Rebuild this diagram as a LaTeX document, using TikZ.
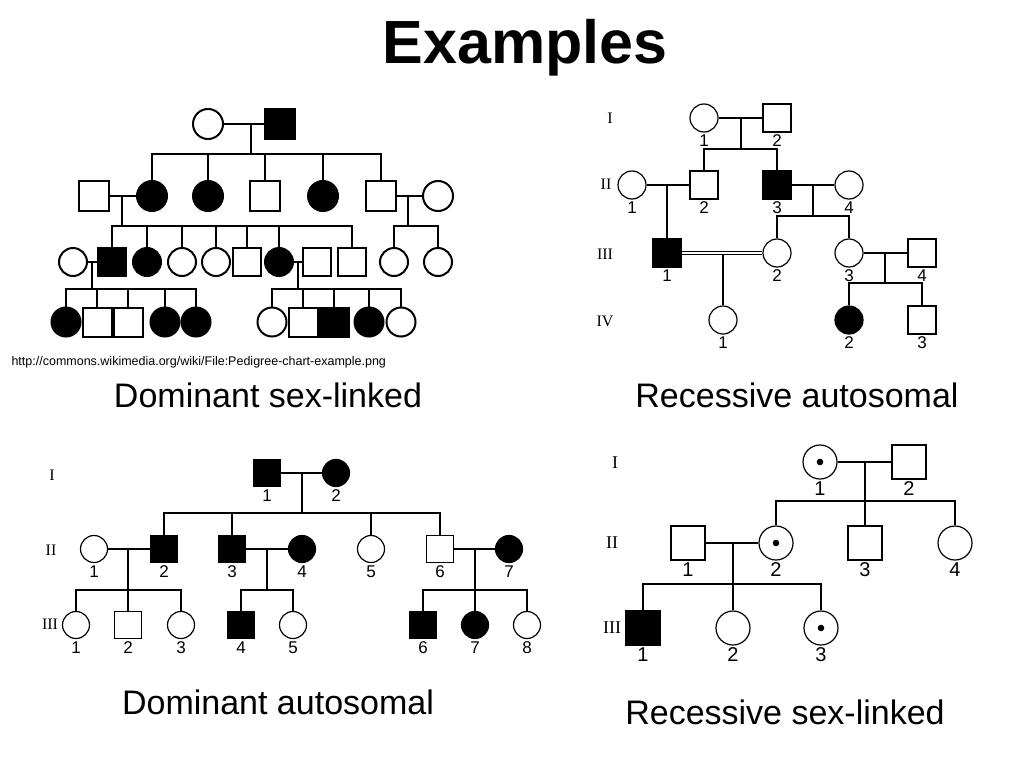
\documentclass[tikz,border=0pt]{standalone}
\usepackage{fontspec}
\setmainfont{Liberation Sans}
\newfontfamily\ser{Liberation Serif}
\begin{document}
\begin{tikzpicture}[x=1pt,y=-1pt,
 sq/.style={draw,rectangle,minimum size=#1,inner sep=0pt},
 ci/.style={draw,circle,minimum size=#1,inner sep=0pt},
 aff/.style={fill=black},
 dot/.style={path picture={\fill (path picture bounding box.center) circle (3.3pt);}},
 num/.style={font=\fontsize{17}{17}\selectfont,inner sep=0pt},
 gen/.style={font=\ser\fontsize{16}{16}\selectfont},
 pa/.style={line width=2pt},
 pb/.style={line width=1.2pt},
 captxt/.style={font=\fontsize{34}{36}\selectfont}]
\useasboundingbox (0,0) rectangle (1024,768);
\node[font=\bfseries\fontsize{61}{61}\selectfont] (title) at (525,48) {Examples};
\node[font=\fontsize{12.5}{12.5}\selectfont,anchor=west] (url) at (8,362) {http://commons.wikimedia.org/wiki/File:Pedigree-chart-example.png};
\node[captxt] (c1) at (268,395) {Dominant sex-linked};
\node[captxt] (c2) at (797,395) {Recessive autosomal};
\node[captxt] (c3) at (278,702) {Dominant autosomal};
\node[captxt] (c4) at (785,712) {Recessive sex-linked};

% ===== Panel 1 =====
\begin{scope}[pa]
\node[ci=30pt,pa] (a1) at (208,124) {};
\node[sq=30pt,aff,pa] (a2) at (280,124) {};
\node[sq=30pt,pa] (b1) at (94,196) {};
\node[ci=30pt,aff,pa] (b2) at (152,196) {};
\node[ci=30pt,aff,pa] (b3) at (208,196) {};
\node[sq=30pt,pa] (b4) at (265,196) {};
\node[ci=30pt,aff,pa] (b5) at (323,196) {};
\node[sq=30pt,pa] (b6) at (381,196) {};
\node[ci=30pt,pa] (b7) at (438,196) {};
\node[ci=28pt,pa] (d1) at (73,262) {};
\node[sq=28pt,aff,pa] (d2) at (112,262) {};
\node[ci=28pt,aff,pa] (d3) at (147,262) {};
\node[ci=28pt,pa] (d4) at (182,262) {};
\node[ci=28pt,pa] (d5) at (216,262) {};
\node[sq=28pt,pa] (d6) at (247,262) {};
\node[ci=28pt,aff,pa] (d7) at (279,262) {};
\node[sq=28pt,pa] (d8) at (317,262) {};
\node[sq=28pt,pa] (d9) at (352,262) {};
\node[ci=28pt,pa] (d10) at (394,262) {};
\node[ci=28pt,pa] (d11) at (438,262) {};
\node[ci=29pt,aff,pa] (e1) at (66,322) {};
\node[sq=29pt,pa] (e2) at (97,322) {};
\node[sq=29pt,pa] (e3) at (128,322) {};
\node[ci=29pt,aff,pa] (e4) at (165,322) {};
\node[ci=29pt,aff,pa] (e5) at (196,322) {};
\node[ci=29pt,pa] (f1) at (272,322) {};
\node[sq=29pt,pa] (f2) at (303,322) {};
\node[sq=29pt,aff,pa] (f3) at (334,322) {};
\node[ci=29pt,aff,pa] (f4) at (369,322) {};
\node[ci=29pt,pa] (f5) at (401,322) {};
\draw (a1) -- (a2);
\coordinate (m1) at (251,124);
\draw (m1) -- (251,154) coordinate (s1);
\foreach \c in {b2,b3,b4,b5,b6} \draw (s1) -| (\c.north);
\draw (b1) -- (b2); \coordinate (m2) at (122,196);
\draw (m2) -- (122,226) coordinate (s2);
\foreach \c in {d2,d3,d4,d5,d6,d7,d9} \draw (s2) -| (\c.north);
\draw (b6) -- (b7); \coordinate (m3) at (408,196);
\draw (m3) -- (408,226) coordinate (s3);
\foreach \c in {d10,d11} \draw (s3) -| (\c.north);
\draw (d1) -- (d2); \coordinate (m4) at (92,262);
\draw (m4) -- (92,289) coordinate (s4);
\foreach \c in {e1,e2,e3,e4,e5} \draw (s4) -| (\c.north);
\draw (d7) -- (d8); \coordinate (m5) at (298,262);
\draw (m5) -- (298,289) coordinate (s5);
\foreach \c in {f1,f2,f3,f4,f5} \draw (s5) -| (\c.north);
\end{scope}

% ===== Panel 2 =====
\begin{scope}[pb]
\node[gen] (g2a) at (610,118) {I};
\node[gen] (g2b) at (606,184) {II};
\node[gen] (g2c) at (605,254) {III};
\node[gen] (g2d) at (605,321) {IV};
\node[ci=28pt,pb] (r1) at (704,118) {};
\node[sq=28pt,pb] (r2) at (777,118) {};
\node[ci=28pt,pb] (r3) at (632,185) {};
\node[sq=28pt,pb] (r4) at (704,185) {};
\node[sq=28pt,aff,pb] (r5) at (777,185) {};
\node[ci=28pt,pb] (r6) at (849,185) {};
\node[sq=28pt,aff,pb] (r7) at (667,253) {};
\node[ci=28pt,pb] (r8) at (777,253) {};
\node[ci=28pt,pb] (r9) at (849,253) {};
\node[sq=28pt,pb] (r10) at (922,253) {};
\node[ci=28pt,pb] (r11) at (723,320) {};
\node[ci=28pt,aff,pb] (r12) at (849,320) {};
\node[sq=28pt,pb] (r13) at (922,320) {};
\foreach \n/\t in {r1/1,r2/2,r3/1,r4/2,r5/3,r6/4,r7/1,r8/2,r9/3,r10/4,r11/1,r12/2,r13/3}
 \path (\n.center) ++(0,23) node[num] {\t};
\draw (r1) -- (r2);
\draw (741,118) -- (741,149) coordinate (t1);
\foreach \c in {r4,r5} \draw (t1) -| (\c.north);
\draw (r3) -- (r4);
\draw (667,185) -- (r7.north);
\draw (r5) -- (r6);
\draw (813,185) -- (813,216) coordinate (t2);
\foreach \c in {r8,r9} \draw (t2) -| (\c.north);
\draw[double,double distance=2.2pt,line width=0.9pt] (r7) -- (r8);
\draw (723,254) -- (r11.north);
\draw (r9) -- (r10);
\draw (885,253) -- (885,283) coordinate (t3);
\foreach \c in {r12,r13} \draw (t3) -| (\c.north);
\end{scope}

% ===== Panel 3 =====
\begin{scope}[pb]
\node[gen] (g3a) at (52,475) {I};
\node[gen] (g3b) at (51,550) {II};
\node[gen] (g3c) at (50,624) {III};
\node[sq=27pt,aff,pb] (u1) at (267,473) {};
\node[ci=27pt,aff,pb] (u2) at (336,473) {};
\node[ci=27pt,pb] (v1) at (94,549) {};
\node[sq=27pt,aff,pb] (v2) at (164,549) {};
\node[sq=27pt,aff,pb] (v3) at (232,549) {};
\node[ci=27pt,aff,pb] (v4) at (302,549) {};
\node[ci=27pt,pb] (v5) at (371,549) {};
\node[sq=27pt,pb] (v6) at (440,549) {};
\node[ci=27pt,aff,pb] (v7) at (509,549) {};
\node[ci=27pt,pb] (w1) at (76,625) {};
\node[sq=27pt,pb] (w2) at (128,625) {};
\node[ci=27pt,pb] (w3) at (181,625) {};
\node[sq=27pt,aff,pb] (w4) at (241,625) {};
\node[ci=27pt,pb] (w5) at (293,625) {};
\node[sq=27pt,aff,pb] (w6) at (423,625) {};
\node[ci=27pt,aff,pb] (w7) at (475,625) {};
\node[ci=27pt,pb] (w8) at (527,625) {};
\foreach \n/\t in {u1/1,u2/2,v1/1,v2/2,v3/3,v4/4,v5/5,v6/6,v7/7,w1/1,w2/2,w3/3,w4/4,w5/5,w6/6,w7/7,w8/8}
 \path (\n.center) ++(0,23) node[num] {\t};
\draw (u1) -- (u2);
\draw (302,473) -- (302,513) coordinate (q1);
\foreach \c in {v2,v3,v5,v6} \draw (q1) -| (\c.north);
\draw (v1) -- (v2);
\draw (128,549) -- (128,590) coordinate (q2);
\foreach \c in {w1,w2,w3} \draw (q2) -| (\c.north);
\draw (v3) -- (v4);
\draw (267,549) -- (267,590) coordinate (q3);
\foreach \c in {w4,w5} \draw (q3) -| (\c.north);
\draw (v6) -- (v7);
\draw (475,549) -- (475,590) coordinate (q4);
\foreach \c in {w6,w7,w8} \draw (q4) -| (\c.north);
\end{scope}

% ===== Panel 4 =====
\begin{scope}[pb]
\node[gen,font=\ser\fontsize{18}{18}\selectfont] (g4a) at (615,463) {I};
\node[gen,font=\ser\fontsize{18}{18}\selectfont] (g4b) at (612,543) {II};
\node[gen,font=\ser\fontsize{18}{18}\selectfont] (g4c) at (612,628) {III};
\node[ci=34pt,dot,pb] (k1) at (820,462) {};
\node[sq=34pt,pb] (k2) at (909,462) {};
\node[sq=34pt,pb] (l1) at (688,543) {};
\node[ci=34pt,dot,pb] (l2) at (776,543) {};
\node[sq=34pt,pb] (l3) at (865,543) {};
\node[ci=34pt,pb] (l4) at (955,543) {};
\node[sq=34pt,aff,pb] (n1) at (643,628) {};
\node[ci=34pt,pb] (n2) at (733,628) {};
\node[ci=34pt,dot,pb] (n3) at (821,628) {};
\foreach \n/\t in {k1/1,k2/2,l1/1,l2/2,l3/3,l4/4,n1/1,n2/2,n3/3}
 \path (\n.center) ++(0,27) node[num,font=\fontsize{20}{20}\selectfont] {\t};
\draw (k1) -- (k2);
\draw (865,462) -- (865,501) coordinate (o1);
\foreach \c in {l2,l3,l4} \draw (o1) -| (\c.north);
\draw (l1) -- (l2);
\draw (733,543) -- (733,584) coordinate (o2);
\foreach \c in {n1,n2,n3} \draw (o2) -| (\c.north);
\end{scope}
\end{tikzpicture}
\end{document}
